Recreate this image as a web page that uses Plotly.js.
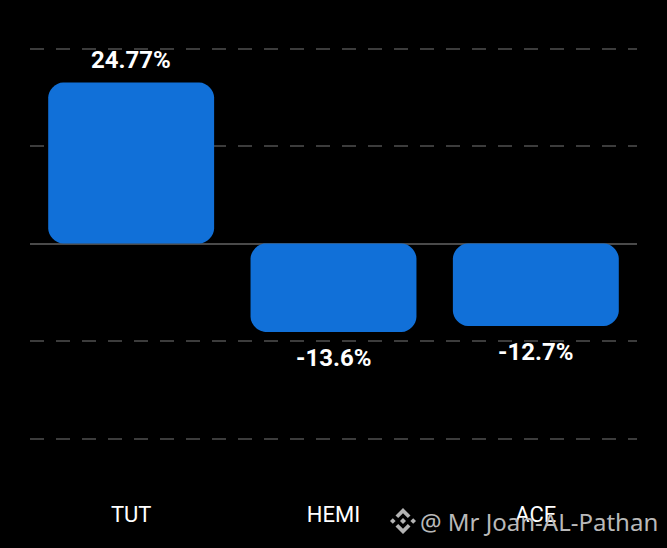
<!DOCTYPE html>
<html><head><meta charset="utf-8">
<script src="https://cdn.plot.ly/plotly-3.0.1.min.js"></script>
<style>html,body{margin:0;padding:0;background:#000}</style></head>
<body><div id="chart" style="width:667px;height:548px"></div>
<script>
const categories = ["TUT","HEMI","ACE"];
const values = [24.77,-13.6,-12.7];
const labels = ["24.77%","-13.6%","-12.7%"];
const gridVals = [30,15,-15,-30];
const watermark = "@ Mr Joan-AL-Pathan";
const BLUE = "#1170d8";
const W=667,H=548,mL=30,mR=30,mT=42,mB=103;
const yMax=31, bw=0.82, radius=15;
const ppxX=(W-mL-mR)/3, ppxY=(H-mT-mB)/(2*yMax);
const shapes=[];
values.forEach((v,i)=>{
  const x0=i-bw/2,x1=i+bw/2,rx=radius/ppxX,ry=radius/ppxY,s=v>=0?1:-1;
  const kx=rx*0.45,ky=s*ry*0.45,ryS=s*ry;
  shapes.push({type:"path",layer:"above",xref:"x",yref:"y",fillcolor:BLUE,line:{width:0},
   path:`M ${x0+rx} 0 C ${x0+kx} 0 ${x0} ${ryS-ky} ${x0} ${ryS} L ${x0} ${v-ryS} C ${x0} ${v-ryS+ky} ${x0+kx} ${v} ${x0+rx} ${v} L ${x1-rx} ${v} C ${x1-kx} ${v} ${x1} ${v-ryS+ky} ${x1} ${v-ryS} L ${x1} ${ryS} C ${x1} ${ryS-ky} ${x1-kx} 0 ${x1-rx} 0 Z`});
});
// watermark logo and text, placed in page pixels
const px=x=>(x-mL)/(W-mL-mR), py=y=>1-(y-mT)/(H-mT-mB);
const cx=403,cy=521;
const logo=[
 [[0,-13],[7.5,-5.5],[4.8,-2.9],[0,-7.7],[-4.8,-2.9],[-7.5,-5.5]],
 [[0,13],[7.5,5.5],[4.8,2.9],[0,7.7],[-4.8,2.9],[-7.5,5.5]],
 [[-13,0],[-10.2,-2.8],[-7.4,0],[-10.2,2.8]],
 [[13,0],[10.2,-2.8],[7.4,0],[10.2,2.8]],
 [[0,-3],[3,0],[0,3],[-3,0]]
];
logo.forEach(p=>shapes.push({type:"path",xref:"paper",yref:"paper",layer:"above",line:{width:0},fillcolor:"#b4b4b4",
  path:p.map((q,i)=>(i?"L ":"M ")+px(cx+q[0])+" "+py(cy+q[1])).join(" ")+" Z"}));
const barLabels=values.map((v,i)=>({x:i,y:v,xref:"x",yref:"y",text:labels[i],showarrow:false,
  xanchor:"center",yanchor:"middle",yshift:v>=0?23:-26,
  font:{family:"Roboto",size:24,color:"#fff",weight:700}}));
const trace={type:"bar",x:categories,y:values,marker:{color:"rgba(0,0,0,0)"},width:bw,hoverinfo:"skip"};
const layout={width:W,height:H,paper_bgcolor:"#000",plot_bgcolor:"#000",showlegend:false,
 margin:{l:mL,r:mR,t:mT,b:mB,pad:0},shapes,
 xaxis:{type:"category",range:[-0.5,2.5],showgrid:false,zeroline:false,ticks:"",ticklabelstandoff:54,
   tickfont:{family:"Roboto",size:22,color:"#fff"},showline:false},
 yaxis:{range:[-yMax,yMax],tickvals:gridVals,showticklabels:false,ticks:"",showgrid:true,gridcolor:"#3c3c3c",griddash:"14px,12px",gridwidth:1.5,
   zeroline:true,zerolinecolor:"#4a4a4a",zerolinewidth:1.5},
 annotations:barLabels.concat([{xref:"paper",yref:"paper",x:px(660),y:py(521),xanchor:"right",yanchor:"middle",showarrow:false,
   text:watermark,font:{family:"Noto Sans",size:24,color:"#b9b9b9"}}])};
Plotly.newPlot("chart",[trace],layout,{displayModeBar:false});
</script></body></html>
